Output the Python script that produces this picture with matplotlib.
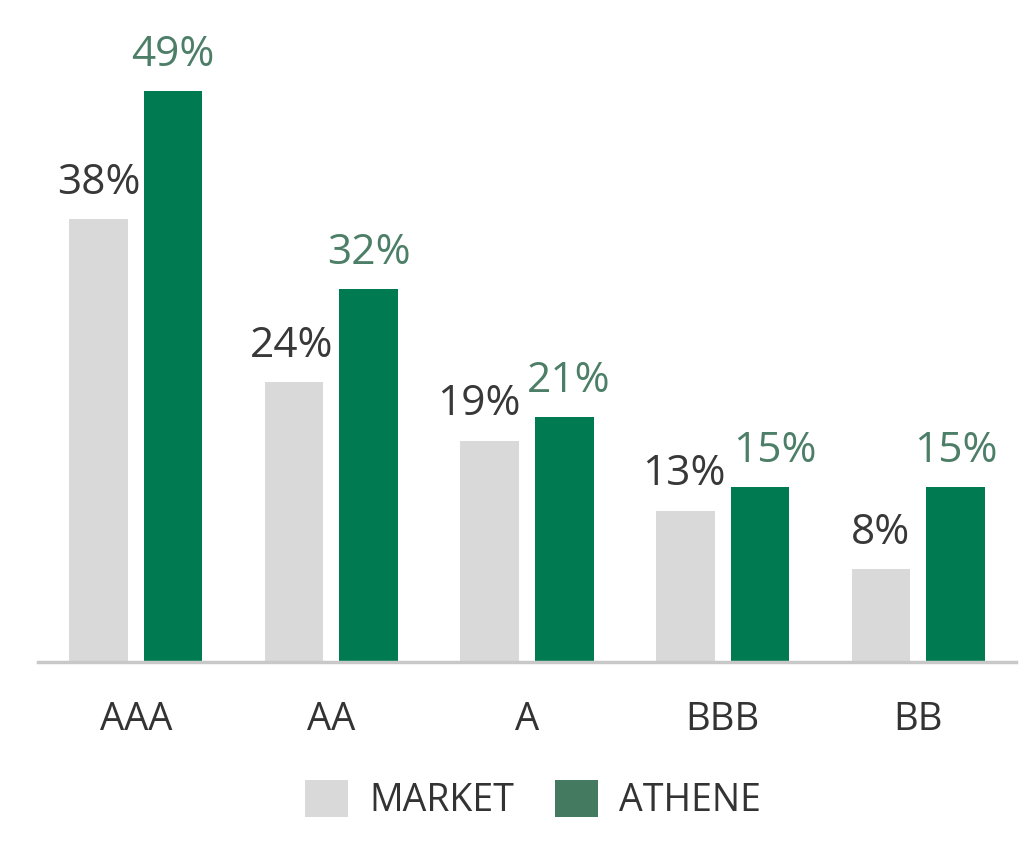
import matplotlib
matplotlib.use("Agg")
import matplotlib.pyplot as plt
from matplotlib.patches import Patch
import numpy as np

categories = ["AAA", "AA", "A", "BBB", "BB"]
market = [38, 24, 19, 13, 8]
athene = [49, 32, 21, 15, 15]
series_names = ["MARKET", "ATHENE"]

# small horizontal nudges (points) of value labels, as in the reference
market_dx = [0, -2, -8, -1, 0]
athene_dx = [0, 0, 3, 11, 0]

plt.rcParams['font.family'] = ['Open Sans', 'DejaVu Sans']

fig = plt.figure(figsize=(10.24, 8.41), dpi=100)
W, H = 1024, 841
left, right, bottom, top = 38, 1016, 662, 30
ax = fig.add_axes([left / W, 1 - bottom / H, (right - left) / W, (bottom - top) / H])

x = np.arange(len(categories))
bw = 0.30
off = 0.191
c_market = "#d9d9d9"
c_athene = "#007a50"
ax.bar(x - off, market, bw, color=c_market, zorder=2)
ax.bar(x + off, athene, bw, color=c_athene, zorder=2)

for xi, v, dx in zip(x, market, market_dx):
    ax.annotate(f"{v}%", (xi - off, v), xytext=(dx, 11), textcoords="offset points",
                ha="center", va="bottom", fontsize=30.5, color="#383838")
for xi, v, dx in zip(x, athene, athene_dx):
    ax.annotate(f"{v}%", (xi + off, v), xytext=(dx, 11), textcoords="offset points",
                ha="center", va="bottom", fontsize=30.5, color="#4d7f68")

ax.set_xlim(-0.5, 4.5)
ax.set_ylim(0, 54.25)
ax.set_xticks(x)
ax.set_xticklabels(categories, fontsize=27.5, color="#333333")
ax.tick_params(axis="x", length=0, pad=28)
ax.set_yticks([])
for s in ["left", "right", "top"]:
    ax.spines[s].set_visible(False)
ax.spines["bottom"].set_color("#c8c8c8")
ax.spines["bottom"].set_linewidth(2.5)

handles = [Patch(facecolor=c_market, edgecolor="none"),
           Patch(facecolor="#437a60", edgecolor="none")]
fig.legend(handles, series_names, loc="center", bbox_to_anchor=(533 / W, 1 - 800 / H),
           ncol=2, frameon=False, fontsize=27, labelcolor="#333333",
           handlelength=1.15, handleheight=1.15, handletextpad=0.55, columnspacing=1.1)

fig.savefig("out.png", dpi=100)
